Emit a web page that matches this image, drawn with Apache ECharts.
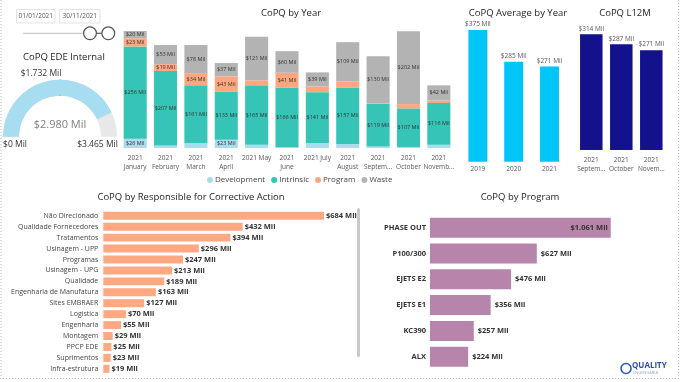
<!DOCTYPE html>
<html>
<head>
<meta charset="utf-8">
<script src="https://cdn.jsdelivr.net/npm/echarts@6/dist/echarts.min.js"></script>
<style>
html,body{margin:0;padding:0;background:#fff;}
#c{width:680px;height:382px;}
</style>
</head>
<body>
<div id="c"></div>
<script>
// ---- Data ----
const months = ['2021\nJanuary','2021\nFebruary','2021\nMarch','2021\nApril','2021 May','2021\nJune','2021 July','2021\nAugust','2021\nSeptem...','2021\nOctober','2021\nNovemb...'];
const development = [26, 7, 13, 23, 9, 2, 14, 11, 4, 3, 9];
const intrinsic   = [256, 207, 161, 133, 165, 166, 141, 157, 119, 107, 116];
const program     = [23, 19, 34, 43, 14, 41, 16, 17, 2, 12, 7];
const waste       = [20, 53, 78, 37, 121, 60, 39, 109, 130, 202, 42];

const avgYears = ['2019', '2020', '2021'];
const avgValues = [375, 285, 271];

const l12mMonths = ['2021\nSeptem...', '2021\nOctober', '2021\nNovem...'];
const l12mValues = [314, 287, 271];

const respCategories = ['Não Direcionado','Qualidade Fornecedores','Tratamentos','Usinagem - UPP','Programas','Usinagem - UPG','Qualidade','Engenharia de Manufatura','Sites EMBRAER','Logistica','Engenharia','Montagem','PPCP EDE','Suprimentos','Infra-estrutura'];
const respValues = [684, 432, 394, 296, 247, 213, 189, 163, 127, 70, 55, 29, 25, 23, 19];

const progCategories = ['PHASE OUT','P100/300','EJETS E2','EJETS E1','KC390','ALX'];
const progValues = [1061, 627, 476, 356, 257, 224];

const gaugeMin = 0, gaugeMax = 3465, gaugeValue = 2980, gaugeTarget = 1732;
const dateFrom = '01/01/2021', dateTo = '30/11/2021';

// ---- Helpers ----
const FONT = 'Open Sans';
function fmt(v) {
  const n = typeof v === 'object' ? v.value : v;
  return '$' + String(Math.round(n)).replace(/\B(?=(\d{3})+(?!\d))/g, '.') + ' Mil';
}
const C_DEV = '#A9DCEF', C_INT = '#35C4B6', C_PRG = '#FEA77F', C_WST = '#B3B3B3';

function stackSeries(name, data, color) {
  return {
    name, type: 'bar', stack: 'y', data, xAxisIndex: 0, yAxisIndex: 0,
    barWidth: '76%',
    itemStyle: { color },
    label: {
      show: true, position: 'inside', fontSize: 5.5, color: '#333', fontFamily: FONT,
      formatter: p => p.value >= 18 ? fmt(p.value) : ''
    }
  };
}

const titleStyle = { fontSize: 9.5, fontWeight: 'normal', color: '#252423', fontFamily: FONT };

const chart = echarts.init(document.getElementById('c'), null, { renderer: 'canvas' });

const option = {
  animation: false,
  backgroundColor: '#fff',
  textStyle: { fontFamily: FONT },
  title: [
    { text: 'CoPQ by Year', left: 286, top: 3, textAlign: 'center', textStyle: titleStyle },
    { text: 'CoPQ Average by Year', left: 513, top: 3, textAlign: 'center', textStyle: titleStyle },
    { text: 'CoPQ L12M', left: 620, top: 3, textAlign: 'center', textStyle: titleStyle },
    { text: 'CoPQ EDE Internal', left: 18, top: 47, textStyle: titleStyle },
    { text: 'CoPQ by Responsible for Corrective Action', left: 186, top: 187, textAlign: 'center', textStyle: titleStyle },
    { text: 'CoPQ by Program', left: 515, top: 187, textAlign: 'center', textStyle: titleStyle }
  ],
  legend: {
    data: ['Development', 'Intrinsic', 'Program', 'Waste'],
    left: 202, top: 171, icon: 'circle', itemWidth: 6, itemHeight: 6, itemGap: 6,
    textStyle: { fontSize: 8, color: '#444', fontFamily: FONT, padding: [0, 0, 0, -3] }
  },
  grid: [
    { left: 120, width: 334, top: 25.6, height: 122.4 },
    { left: 460, width: 107.4, top: 21.3, height: 140.4 },
    { left: 576.3, width: 90, top: 24.7, height: 125.3 },
    { left: 103.3, width: 242, top: 210.3, height: 164 },
    { left: 430, width: 204.4, top: 214.8, height: 154.8 }
  ],
  xAxis: [
    { gridIndex: 0, type: 'category', data: months, axisLine: { show: false }, axisTick: { show: false },
      axisLabel: { interval: 0, fontSize: 6.5, color: '#555', lineHeight: 9, margin: 6 } },
    { gridIndex: 1, type: 'category', data: avgYears, axisLine: { show: false }, axisTick: { show: false },
      axisLabel: { interval: 0, fontSize: 6.5, color: '#555', margin: 4 } },
    { gridIndex: 2, type: 'category', data: l12mMonths, axisLine: { show: false }, axisTick: { show: false },
      axisLabel: { interval: 0, fontSize: 6.5, color: '#555', lineHeight: 9, margin: 6 } },
    { gridIndex: 3, type: 'value', min: 0, max: 750, show: false },
    { gridIndex: 4, type: 'value', min: 0, max: 1200, show: false }
  ],
  yAxis: [
    { gridIndex: 0, type: 'value', min: 0, max: 340, show: false },
    { gridIndex: 1, type: 'value', min: 0, max: 400, show: false },
    { gridIndex: 2, type: 'value', min: 0, max: 340, show: false },
    { gridIndex: 3, type: 'category', data: respCategories, inverse: true, axisLine: { show: false }, axisTick: { show: false },
      axisLabel: { interval: 0, fontSize: 7, color: '#444', margin: 5 } },
    { gridIndex: 4, type: 'category', data: progCategories, inverse: true, axisLine: { show: false }, axisTick: { show: false },
      axisLabel: { interval: 0, fontSize: 7.5, color: '#333', fontWeight: 'bold', margin: 4 } }
  ],
  series: [
    stackSeries('Development', development, C_DEV),
    stackSeries('Intrinsic', intrinsic, C_INT),
    stackSeries('Program', program, C_PRG),
    stackSeries('Waste', waste, C_WST),
    {
      type: 'bar', xAxisIndex: 1, yAxisIndex: 1, data: avgValues, barWidth: '53%',
      itemStyle: { color: '#00C6F7' },
      label: { show: true, position: 'top', distance: 2, fontSize: 6.5, color: '#555', formatter: fmt }
    },
    {
      type: 'bar', xAxisIndex: 2, yAxisIndex: 2, data: l12mValues, barWidth: '75%',
      itemStyle: { color: '#13118C' },
      label: { show: true, position: 'top', distance: 2, fontSize: 6.5, color: '#555', formatter: fmt }
    },
    {
      type: 'bar', xAxisIndex: 3, yAxisIndex: 3, data: respValues, barWidth: '73%',
      itemStyle: { color: '#FFA982' },
      label: { show: true, position: 'right', distance: 2, fontSize: 7.5, fontWeight: 'bold', color: '#333', formatter: fmt }
    },
    {
      type: 'bar', xAxisIndex: 4, yAxisIndex: 4, barWidth: '77.5%',
      data: progValues.map((v, i) => i === 0
        ? { value: v, label: { position: 'insideRight', distance: 3 } }
        : v),
      itemStyle: { color: '#B784AB' },
      label: { show: true, position: 'right', distance: 4, fontSize: 7.5, fontWeight: 'bold', color: '#333', formatter: fmt }
    },
    // Gauge main
    {
      type: 'gauge', center: [60, 136.7], radius: 57, startAngle: 180, endAngle: 0,
      min: gaugeMin, max: gaugeMax, splitNumber: 1,
      progress: { show: true, width: 16, itemStyle: { color: '#A7DDF0' } },
      axisLine: { lineStyle: { width: 16, color: [[1, '#E8E8E8']] } },
      axisTick: { show: false }, splitLine: { show: false }, axisLabel: { show: false },
      pointer: { show: false }, anchor: { show: false }, title: { show: false },
      detail: { offsetCenter: [0, -12], fontSize: 11, fontWeight: 'normal', color: '#808080', fontFamily: FONT, formatter: fmt },
      data: [{ value: gaugeValue }]
    },
    // Gauge target
    {
      type: 'gauge', center: [60, 136.7], radius: 57, startAngle: 180, endAngle: 0,
      min: gaugeMin, max: gaugeMax,
      progress: { show: false }, axisLine: { show: false },
      axisTick: { show: false }, splitLine: { show: false }, axisLabel: { show: false },
      pointer: { show: true, icon: 'rect', width: 1.6, length: 16, offsetCenter: [0, -41], itemStyle: { color: '#333' } },
      anchor: { show: false }, title: { show: false },
      detail: { offsetCenter: [-19, -62.7], fontSize: 8.5, fontWeight: 'normal', color: '#333', fontFamily: FONT, formatter: fmt },
      data: [{ value: gaugeTarget }]
    },
    // Gauge min/max labels
    {
      type: 'gauge', center: [60, 136.7], radius: 57, startAngle: 180, endAngle: 0,
      min: gaugeMin, max: gaugeMax,
      progress: { show: false }, axisLine: { show: false },
      axisTick: { show: false }, splitLine: { show: false }, axisLabel: { show: false },
      pointer: { show: false }, anchor: { show: false }, title: { show: false },
      detail: { fontSize: 8.5, fontWeight: 'normal', color: '#333', fontFamily: FONT, formatter: fmt },
      data: [
        { value: gaugeMin, detail: { offsetCenter: [-45, 8.3] } },
        { value: gaugeMax, detail: { offsetCenter: [37.5, 8.3] } }
      ]
    }
  ],
  graphic: [
    // date boxes
    { type: 'rect', shape: { x: 16.5, y: 9.5, width: 38.5, height: 13.5 }, style: { fill: '#fff', stroke: '#e3e3e3', lineWidth: 1 } },
    { type: 'text', x: 35.8, y: 16.3, style: { text: dateFrom, fontSize: 6.5, fill: '#555', align: 'center', verticalAlign: 'middle', fontFamily: FONT } },
    { type: 'rect', shape: { x: 59.5, y: 9.5, width: 40.5, height: 13.5 }, style: { fill: '#fff', stroke: '#e3e3e3', lineWidth: 1 } },
    { type: 'text', x: 79.8, y: 16.3, style: { text: dateTo, fontSize: 6.5, fill: '#555', align: 'center', verticalAlign: 'middle', fontFamily: FONT } },
    // slider
    { type: 'line', shape: { x1: 23, y1: 33.3, x2: 84, y2: 33.3 }, style: { stroke: '#bdbdbd', lineWidth: 1 } },
    { type: 'line', shape: { x1: 96, y1: 33.3, x2: 102, y2: 33.3 }, style: { stroke: '#555', lineWidth: 1.2 } },
    { type: 'circle', shape: { cx: 90, cy: 33.3, r: 6.4 }, style: { fill: '#fff', stroke: '#555', lineWidth: 1.2 } },
    { type: 'circle', shape: { cx: 108.3, cy: 33.3, r: 6.4 }, style: { fill: '#fff', stroke: '#555', lineWidth: 1.2 } },
    // scrollbar
    { type: 'rect', shape: { x: 357, y: 208, width: 3, height: 149, r: 1.5 }, style: { fill: '#c9c9c9' } },
    // logo
    { type: 'circle', shape: { cx: 626, cy: 368.5, r: 5 }, style: { fill: 'none', stroke: '#2D5BB5', lineWidth: 1.6 } },
    { type: 'text', x: 632, y: 366, style: { text: 'QUALITY', fontSize: 8, fontWeight: 'bold', fill: '#2D4FA8', verticalAlign: 'middle', fontFamily: FONT } },
    { type: 'text', x: 633, y: 373, style: { text: 'ENGENHARIA', fontSize: 4, fill: '#9aa7c7', verticalAlign: 'middle', fontFamily: FONT } },
    // dotted frame
    { type: 'line', shape: { x1: 1, y1: 0, x2: 1, y2: 378 }, style: { stroke: '#bbb', lineWidth: 1, lineDash: [1, 2] } },
    { type: 'line', shape: { x1: 0, y1: 378.5, x2: 680, y2: 378.5 }, style: { stroke: '#bbb', lineWidth: 1, lineDash: [1, 2] } },
    { type: 'line', shape: { x1: 678.5, y1: 0, x2: 678.5, y2: 378 }, style: { stroke: '#bbb', lineWidth: 1, lineDash: [1, 2] } }
  ]
};
chart.setOption(option);
</script>
</body>
</html>
